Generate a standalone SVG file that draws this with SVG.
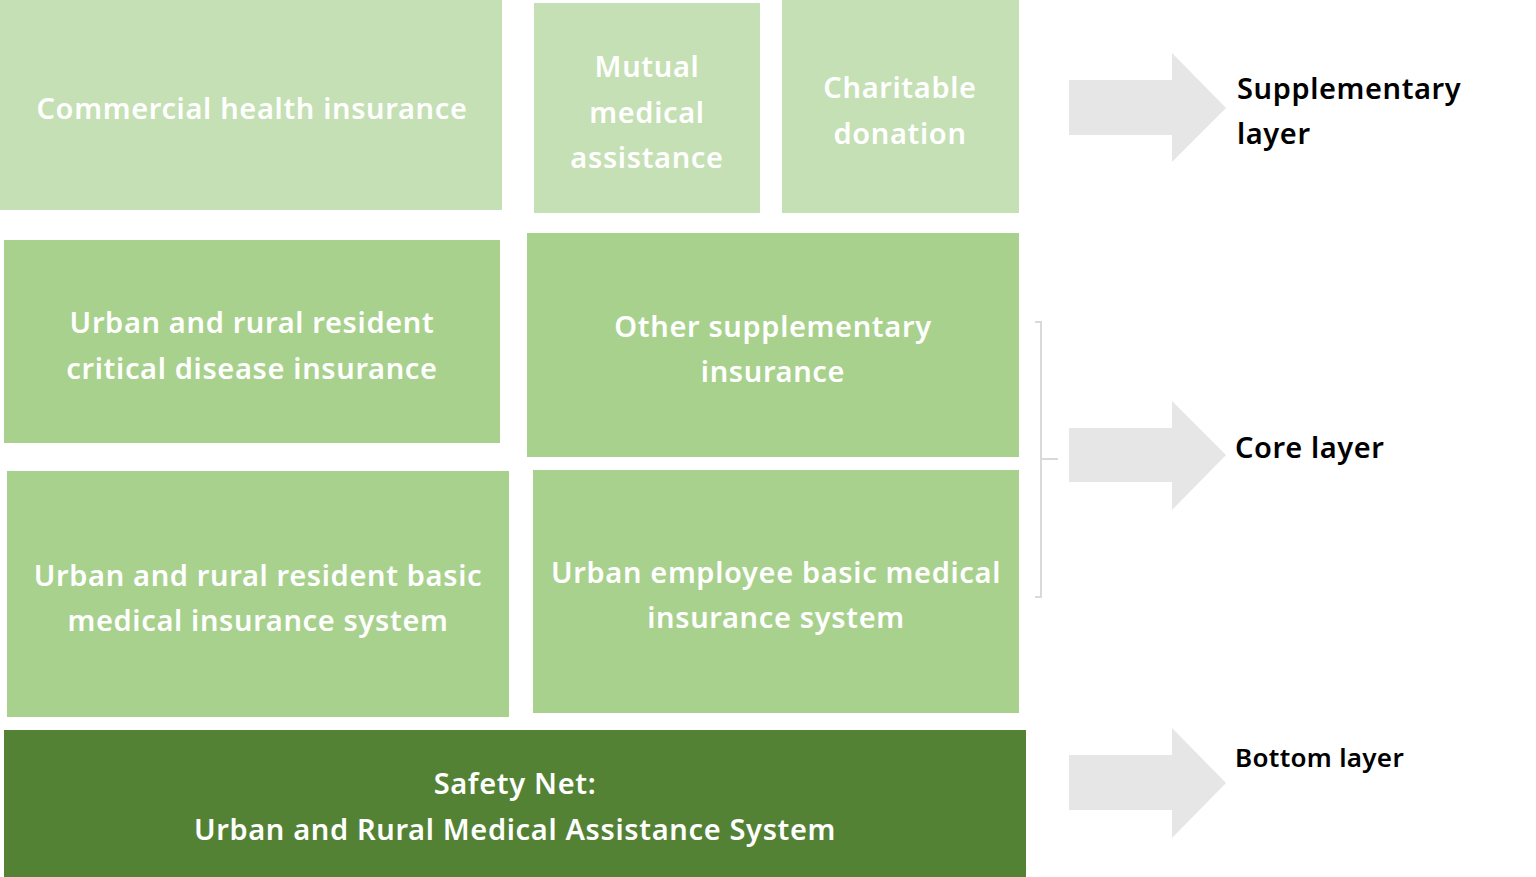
<svg xmlns="http://www.w3.org/2000/svg" width="1536" height="877" viewBox="0 0 1536 877">
<style>
.light{fill:#c5e0b4}
.mid{fill:#a9d18e}
.dark{fill:#548235}
.t{font-family:"Noto Sans","Open Sans",sans-serif;font-size:29px;fill:#ffffff;text-anchor:middle;font-weight:600;letter-spacing:0.65px}
.lbl{font-family:"Noto Sans","Open Sans",sans-serif;font-size:29px;fill:#000000;font-weight:600;letter-spacing:0.6px}
.arrow{fill:#e7e6e6}
</style>
<rect width="1536" height="877" fill="#ffffff"/>
<g id="commercial"><rect class="light" x="0" y="0" width="502" height="210"/><text class="t" x="252" y="119">Commercial health insurance</text></g>
<g id="mutual"><rect class="light" x="534" y="3" width="226" height="210"/><text class="t" x="647" y="77">Mutual</text><text class="t" x="647" y="123">medical</text><text class="t" x="647" y="168">assistance</text></g>
<g id="charitable"><rect class="light" x="782" y="0" width="237" height="213"/><text class="t" x="900" y="98">Charitable</text><text class="t" x="900" y="144">donation</text></g>
<g id="critical"><rect class="mid" x="4" y="240" width="496" height="203"/><text class="t" x="252" y="333">Urban and rural resident</text><text class="t" x="252" y="379">critical disease insurance</text></g>
<g id="other"><rect class="mid" x="527" y="233" width="492" height="224"/><text class="t" x="773" y="337">Other supplementary</text><text class="t" x="773" y="382">insurance</text></g>
<g id="resident-basic"><rect class="mid" x="7" y="471" width="502" height="246"/><text class="t" x="258" y="586">Urban and rural resident basic</text><text class="t" x="258" y="631">medical insurance system</text></g>
<g id="employee-basic"><rect class="mid" x="533" y="470" width="486" height="243"/><text class="t" x="776" y="583">Urban employee basic medical</text><text class="t" x="776" y="628">insurance system</text></g>
<g id="safety-net"><rect class="dark" x="4" y="730" width="1022" height="147"/><text class="t" x="515" y="794">Safety Net:</text><text class="t" x="515" y="840">Urban and Rural Medical Assistance System</text></g>
<g id="connectors">
<path d="M1035 322 H1041 V597 H1035 M1041 459 H1058" fill="none" stroke="#d9d9d9" stroke-width="2"/>
<polygon class="arrow" points="1069,80 1172,80 1172,53 1226,108 1172,162 1172,135 1069,135"/>
<polygon class="arrow" points="1069,428 1172,428 1172,401 1226,455 1172,510 1172,482 1069,482"/>
<polygon class="arrow" points="1069,755 1172,755 1172,728 1226,783 1172,838 1172,810 1069,810"/>
</g>
<g id="label-supplementary"><text class="lbl" x="1237" y="99">Supplementary</text><text class="lbl" x="1237" y="144">layer</text></g>
<g id="label-core"><text class="lbl" x="1235" y="458">Core layer</text></g>
<g id="label-bottom"><text class="lbl" x="1235" y="767" style="font-size:26px;letter-spacing:0.3px">Bottom layer</text></g>
</svg>
